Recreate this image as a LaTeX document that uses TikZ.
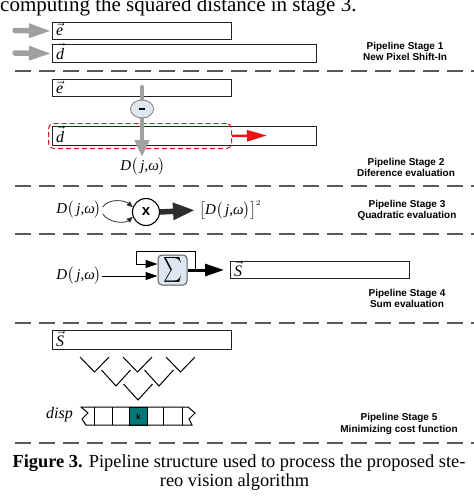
\RequirePackage{fix-cm}
\documentclass[tikz,border=0pt]{standalone}
\usepackage{exscale}
\usepackage{fontspec}
\usepackage{graphicx}
\setmainfont{Liberation Serif}
\newfontfamily\sansf{Liberation Sans}
\usetikzlibrary{arrows.meta,shapes.geometric,calc}
\definecolor{boxgray}{RGB}{35,35,35}
\definecolor{arrgray}{RGB}{160,160,160}
\definecolor{divgray}{RGB}{90,90,90}
\definecolor{redarr}{RGB}{235,20,20}
\definecolor{sumfill}{RGB}{222,230,242}
\definecolor{tealk}{RGB}{0,120,120}
\definecolor{darkarr}{RGB}{45,45,45}
\newcommand{\Djw}{{\itshape D}$\bigl($\,{\itshape j},{\itshape ω}$\bigr)$}
\newcommand{\vlet}[1]{$\vec{\mbox{\itshape #1}}$}
\tikzset{
  regbox/.style={draw=boxgray, line width=1pt, anchor=north west, inner sep=0pt},
  vlab/.style={inner sep=0pt, anchor=base west, font=\fontsize{16}{16}\selectfont},
  dlab/.style={inner sep=0pt, font=\fontsize{15}{18}\selectfont},
  stagelab/.style={align=center, inner sep=0pt, font=\sansf\bfseries\fontsize{10}{11}\selectfont},
  divider/.style={draw=divgray, line width=1.3pt, dash pattern=on 16pt off 8pt},
  grayarr/.style={draw=arrgray, line width=5.5pt, line cap=round, -{Triangle[length=23pt,width=13pt]}},
  grayvarr/.style={draw=arrgray, line width=4.5pt, line cap=round, -{Triangle[length=17pt,width=14pt]}},
  redarrow/.style={draw=redarr, line width=2.5pt, -{Triangle[length=20pt,width=11pt]}},
  reddash/.style={draw=redarr, line width=1pt, dash pattern=on 5pt off 3pt, rounded corners=5pt, anchor=north west, inner sep=0pt},
  darkarrow/.style={draw=darkarr, line width=5.5pt, -{Triangle[length=22pt,width=16pt]}},
  blkarrow/.style={draw=black, line width=3pt, -{Triangle[length=19pt,width=12pt]}},
  thinarr/.style={draw=darkarr, line width=0.8pt, -{Triangle[length=6pt,width=5pt]}},
  fbarr/.style={draw=black, line width=1pt, -{Triangle[length=12pt,width=8pt]}},
  vline/.style={draw=black, line width=1pt},
  cellline/.style={draw=black, line width=1pt},
}
\begin{document}
\begin{tikzpicture}[x=1pt,y=-1pt]
\useasboundingbox (0,0) rectangle (474,501);

% top text
\node[anchor=base west, inner sep=0pt, font=\fontsize{21}{24}\selectfont] (toptext) at (0,11) {computing the squared distance in stage 3.};

% ---------- Stage 1
\node[regbox, minimum width=179pt, minimum height=17pt] (e1) at (52,22) {};
\node[regbox, minimum width=264pt, minimum height=18pt] (d1) at (52,44) {};
\node[vlab] (e1l) at (56,35) {\vlet{e}};
\node[vlab] (d1l) at (56,59) {\vlet{d}};
\coordinate (in1) at (15,30.5);
\coordinate (in2) at (15,53);
\draw[grayarr] (in1) -- (e1.west);
\draw[grayarr] (in2) -- (d1.west);
\node[stagelab] (st1) at (405,51.5) {Pipeline Stage 1\\New Pixel Shift-In};
\draw[divider] (15,71) -- (474,71);

% ---------- Stage 2
\node[regbox, minimum width=179pt, minimum height=17pt] (e2) at (52,79) {};
\node[regbox, minimum width=264pt, minimum height=19pt] (d2) at (52,126) {};
\node[vlab] (e2l) at (56,93) {\vlet{e}};
\node[vlab] (d2l) at (56,142) {\vlet{d}};
\node[reddash, minimum width=183pt, minimum height=25pt] (win) at (48,123) {};
\coordinate (redtip) at (267,135.5);
\draw[redarrow] (win.east) -- (redtip);
\coordinate (vtop) at (142,87);
\coordinate (vtip) at (142,157);
\draw[grayvarr] (vtop) -- (vtip);
\node[ellipse, draw=gray, line width=0.8pt, fill=sumfill, minimum width=23pt, minimum height=18pt, inner sep=0pt] (minus) at (142,109) {\rule{6pt}{2.6pt}};
\node[dlab] (D2) at (143,167) {\Djw};
\node[stagelab] (st2) at (406,167) {Pipeline Stage 2\\Diference evaluation};
\draw[divider] (15,186) -- (474,186);

% ---------- Stage 3
\node[dlab] (D3) at (79,210) {\Djw};
\node[circle, draw=black, line width=1.1pt, minimum size=27pt, inner sep=0pt, font=\sansf\bfseries\fontsize{15}{15}\selectfont] (mul) at (146,212) {x};
\draw[thinarr] ($(D3.east)+(1,-3)$) .. controls +(6,-9) and +(-8,-7) .. (mul.160);
\draw[thinarr] ($(D3.east)+(1,4)$) .. controls +(6,9) and +(-8,7) .. (mul.200);
\node[dlab, anchor=west] (sq) at (199,210) {$\bigl[$\Djw$\bigr]^{\scriptscriptstyle 2}$};
\draw[darkarrow, shorten >=4pt] (mul.east) -- (sq.west);
\node[stagelab] (st3) at (407,210.5) {Pipeline Stage 3\\Quadratic evaluation};
\draw[divider] (15,234) -- (474,234);

% ---------- Stage 4
\node[draw=gray!70!black, fill=sumfill, rounded corners=4pt, line width=1pt, minimum width=29pt, minimum height=30pt, inner sep=0pt, font=\fontsize{23}{23}\selectfont] (sum) at (172.5,270) {\scalebox{0.72}[1]{$\sum$}};
\node[regbox, minimum width=179pt, minimum height=17pt] (S4) at (230,261) {};
\node[vlab] (S4l) at (234,276) {\vlet{S}};
\node[dlab] (D4) at (79,276) {\Djw};
\draw[fbarr] (D4.east) -- (D4.east -| sum.west);
\coordinate (tap) at ($(sum.east)+(8,0)$);
\coordinate (lpc) at (136,251);
\draw[fbarr] (tap) |- (lpc) |- ($(sum.west)+(0,-6)$);
\draw[blkarrow, shorten >=6pt] (sum.east) -- (S4.west);
\node[stagelab] (st4) at (407,298.5) {Pipeline Stage 4\\Sum evaluation};
\draw[divider] (15,323) -- (474,323);

% ---------- Stage 5
\node[regbox, minimum width=179pt, minimum height=19pt] (S5) at (52,330) {};
\node[vlab] (S5l) at (56,346) {\vlet{S}};
% comparator tree
\foreach \cx in {94.5,137.5,180.5} {\draw[vline] (\cx-14.5,357) -- (\cx,372) -- (\cx+14.5,357);}
\foreach \cx in {116,159} {\draw[vline] (\cx-14.5,370) -- (\cx,386) -- (\cx+14.5,370);}
\draw[vline] (123.5,384) -- (138,400) -- (152.5,384);
% disparity register
\node[draw=black, line width=1pt, fill=tealk, minimum width=18pt, minimum height=18pt, inner sep=0pt, anchor=north west, font=\sansf\bfseries\fontsize{8}{8}\selectfont] (kcell) at (129,407) {k};
\draw[cellline] (94,407) -- (81,407) -- (88,413) -- (82,419) -- (86,425) -- (94,425);
\draw[cellline] (94,407) -- (182,407) -- (188,407) -- (195,413) -- (189,419) -- (192,425) -- (94,425);
\foreach \vx in {94,112,163,182} {\draw[cellline] (\vx,407) -- (\vx,425);}
\node[anchor=base east, inner sep=0pt, font=\itshape\fontsize{16}{16}\selectfont] (disp) at (73,418) {disp};
\node[stagelab, font=\sansf\bfseries\fontsize{10}{12.5}\selectfont] (st5) at (399,424) {Pipeline Stage 5\\Minimizing cost function};
\draw[divider] (15,443) -- (474,443);

% caption
\node[anchor=base, inner sep=0pt, font=\fontsize{18.4}{19}\selectfont] (cap1) at (239,467) {\textbf{Figure 3.} Pipeline structure used to process the proposed ste-};
\node[anchor=base, inner sep=0pt, font=\fontsize{18.4}{19}\selectfont] (cap2) at (234.5,486) {reo vision algorithm};
\end{tikzpicture}
\end{document}
